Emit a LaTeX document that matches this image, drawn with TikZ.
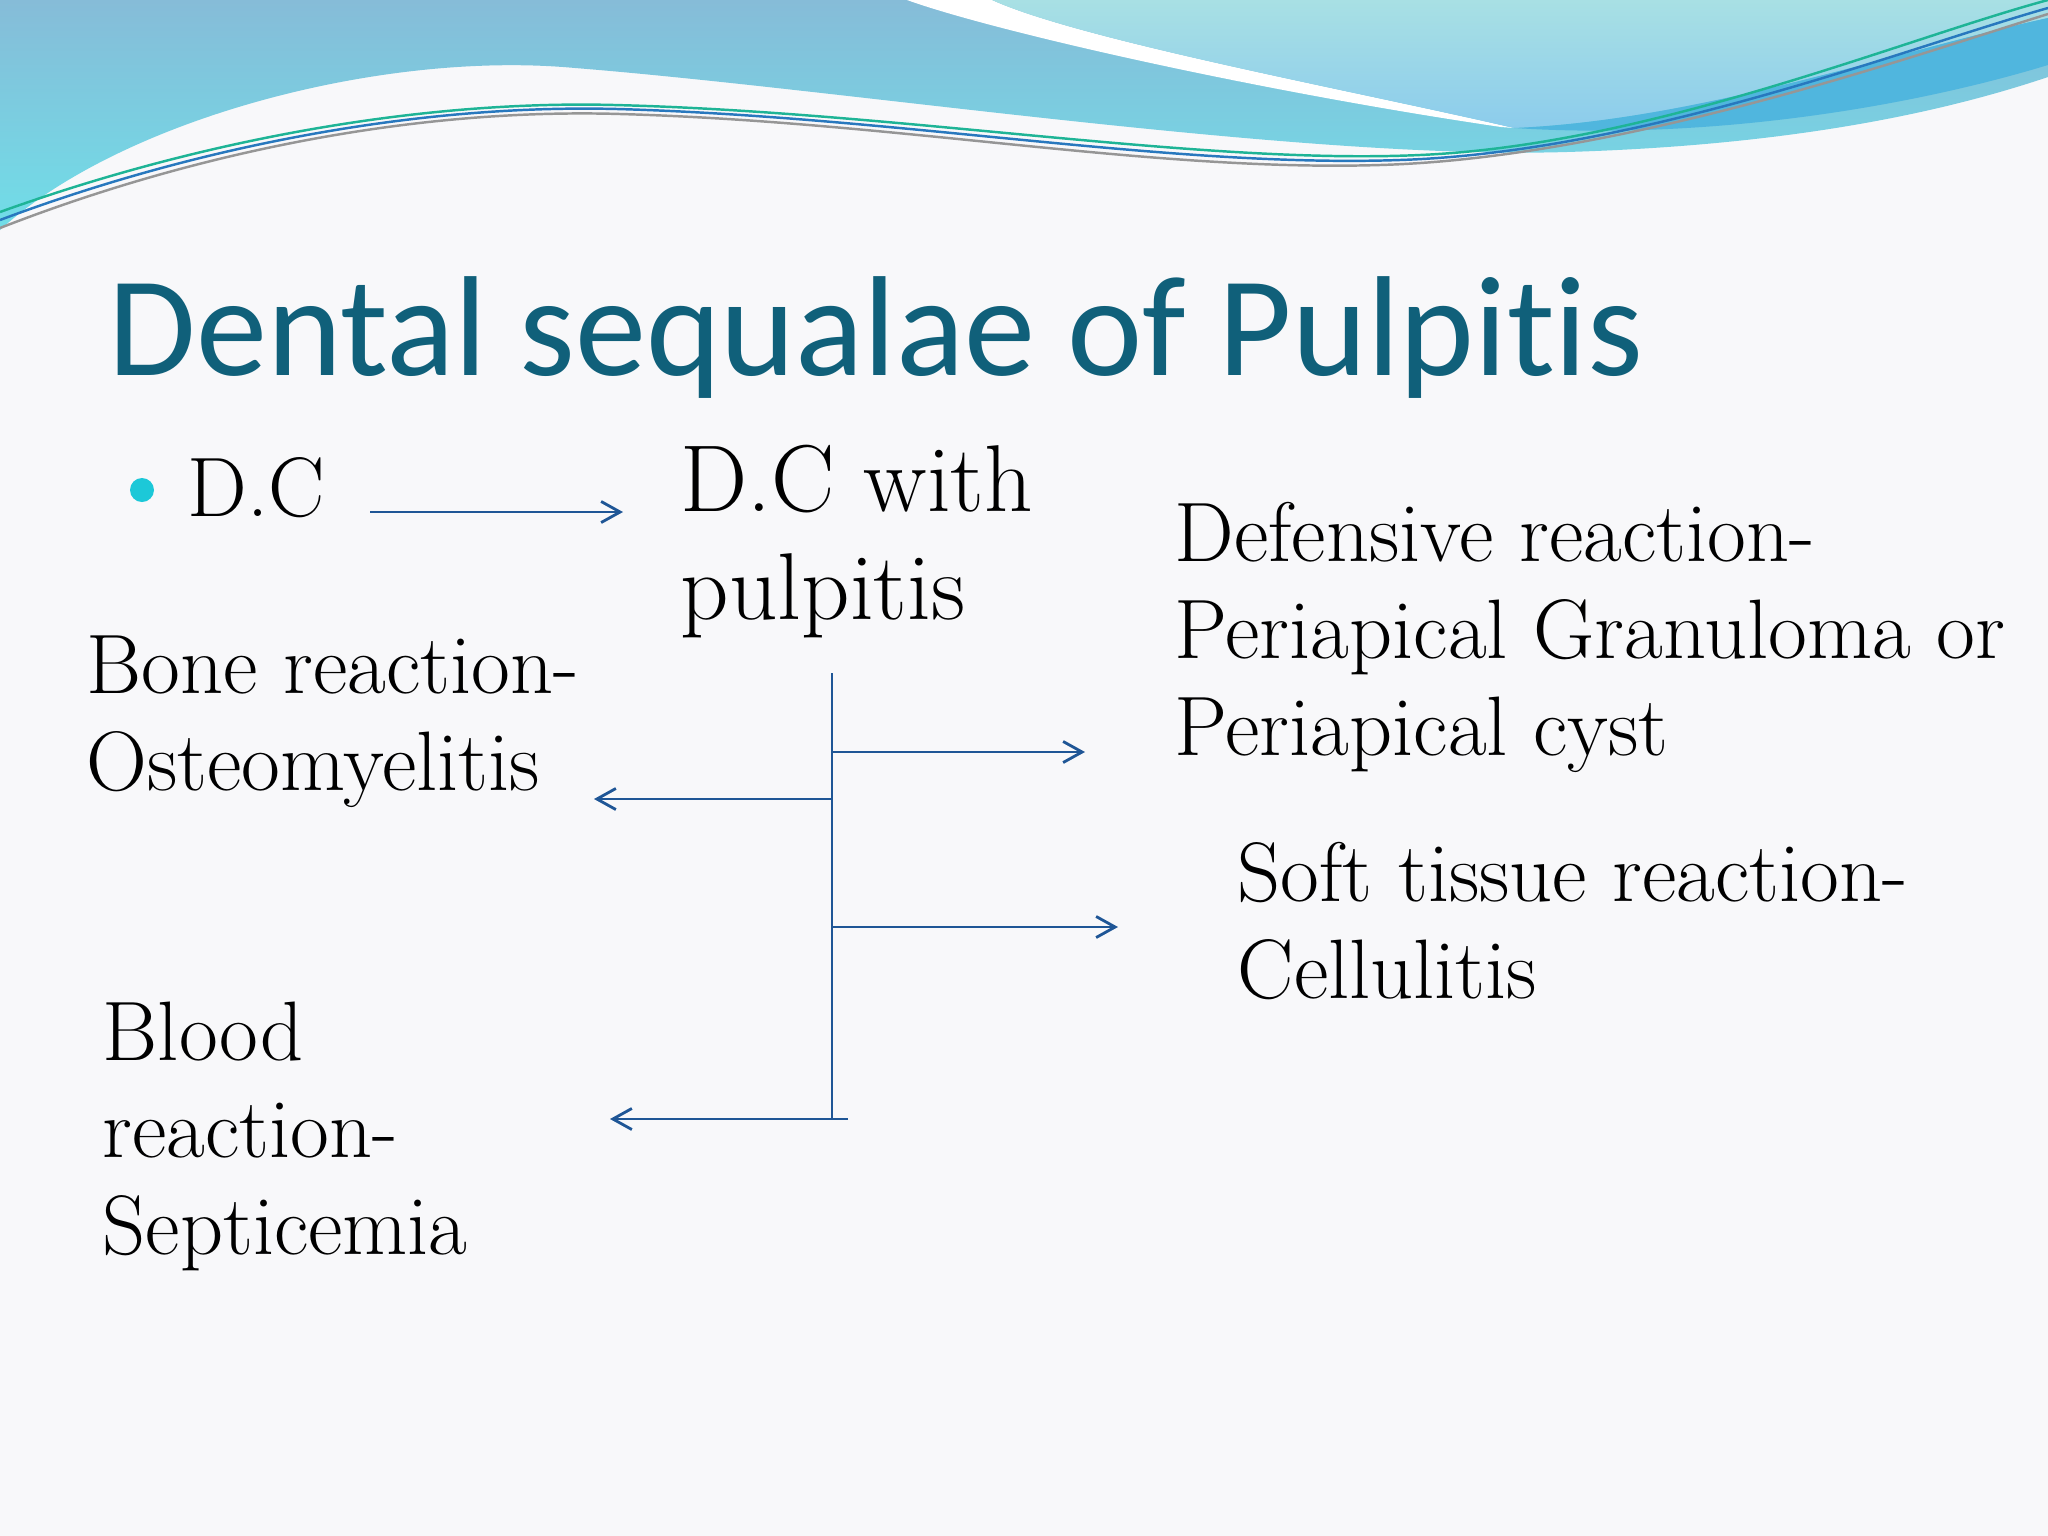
\documentclass[tikz,border=0pt]{standalone}
\usepackage{fontspec}
\newfontfamily\titlefont[Ligatures=NoCommon]{Carlito}
\usetikzlibrary{arrows.meta, positioning}
\definecolor{titleteal}{RGB}{16,96,122}
\definecolor{flowblue}{RGB}{31,86,150}
\definecolor{bulletcyan}{RGB}{28,200,216}
\definecolor{slidebg}{RGB}{248,248,250}
\definecolor{waveA}{RGB}{134,188,216}
\definecolor{waveAlow}{RGB}{112,222,232}
\definecolor{waveB}{RGB}{168,224,228}
\definecolor{waveBlow}{RGB}{140,204,236}
\definecolor{ribbon}{RGB}{80,182,222}
\definecolor{lineteal}{RGB}{30,180,150}
\definecolor{lineblue}{RGB}{40,120,190}
\definecolor{linegrey}{RGB}{150,150,150}
\tikzset{
  txtbox/.style={anchor=base west, align=left, inner sep=0pt, font=\fontsize{24}{27.5}\selectfont},
  bigbox/.style={txtbox, font=\fontsize{27}{30.5}\selectfont},
  flow/.style={-{Straight Barb[length=5.4pt,width=6pt]}, draw=flowblue, line width=0.8pt},
  trunk/.style={draw=flowblue, line width=0.8pt},
  wire/.style={line width=0.7pt}
}

\begin{document}
\begin{tikzpicture}[x=0.01cm, y=-0.01cm]
\useasboundingbox (0,0) rectangle (2048,1536);

% background and top wave
\fill[slidebg] (0,0) rectangle (2048,1536);
\shade[top color=waveA, bottom color=waveAlow] (0,0) -- (2048,0) -- (2048,77)
  .. controls (1950,110) and (1800,145) .. (1567,152)
  .. controls (1300,160) and (850,90) .. (575,68)
  .. controls (380,50) and (120,120) .. (0,230) -- cycle;
\fill[white] (907,0) .. controls (990,30) and (1250,90) .. (1501,127)
  -- (1514,128) .. controls (1350,90) and (1080,40) .. (992,0) -- cycle;
\shade[top color=waveB, bottom color=waveBlow] (992,0)
  .. controls (1080,40) and (1350,90) .. (1514,128)
  .. controls (1700,120) and (1900,50) .. (2048,18) -- (2048,0) -- cycle;
\fill[ribbon] (1514,128) .. controls (1700,120) and (1900,50) .. (2048,18)
  -- (2048,65) .. controls (1900,110) and (1700,140) .. (1514,128) -- cycle;
\draw[wire, lineteal] (0,212) .. controls (200,140) and (420,100) .. (614,105)
  .. controls (900,112) and (1200,165) .. (1420,155)
  .. controls (1650,145) and (1900,40) .. (2048,0);
\draw[wire, lineblue] (0,220) .. controls (200,145) and (420,104) .. (617,109)
  .. controls (900,117) and (1170,168) .. (1400,160)
  .. controls (1640,152) and (1900,50) .. (2048,8);
\draw[wire, linegrey] (0,228) .. controls (200,150) and (420,108) .. (620,114)
  .. controls (900,122) and (1150,172) .. (1380,165)
  .. controls (1620,158) and (1900,60) .. (2048,14);

% title
\node[anchor=base west, inner sep=0pt, text=titleteal, font=\titlefont\fontsize{40.5}{44}\selectfont] (title) at (108,375) {Dental sequalae of Pulpitis};

% bullet and nodes (base = last line)
\fill[bulletcyan] (142,490) circle (12);
\node[txtbox] (DC) at (187,516) {D.C};
\node[bigbox] (DCP) at (680,619) {D.C with\\pulpitis};
\node[txtbox] (Def) at (1174,755) {Defensive reaction-\\Periapical Granuloma or\\Periapical cyst};
\node[txtbox] (Bone) at (86,790) {Bone reaction-\\Osteomyelitis};
\node[txtbox] (Soft) at (1237,998) {Soft tissue reaction-\\Cellulitis};
\node[txtbox] (Blood) at (102,1254) {Blood\\reaction-\\Septicemia};

% junctions
\coordinate (dcA) at (370,512);
\coordinate (dcB) at (623,512);
\coordinate (top) at (832,673);
\coordinate (jDef) at (832,752);
\coordinate (eDef) at (1085,752);
\coordinate (jBone) at (832,799);
\coordinate (eBone) at (594,799);
\coordinate (jSoft) at (832,927);
\coordinate (eSoft) at (1118,927);
\coordinate (jBlood) at (848,1119);
\coordinate (eBlood) at (610,1119);

% arrows
\draw[flow] (dcA) -- (dcB);
\draw[trunk] (top) -- (top |- jBlood);
\foreach \a/\b in {jDef/eDef, jBone/eBone, jSoft/eSoft, jBlood/eBlood}
  \draw[flow] (\a) -- (\b);

\end{tikzpicture}
\end{document}
